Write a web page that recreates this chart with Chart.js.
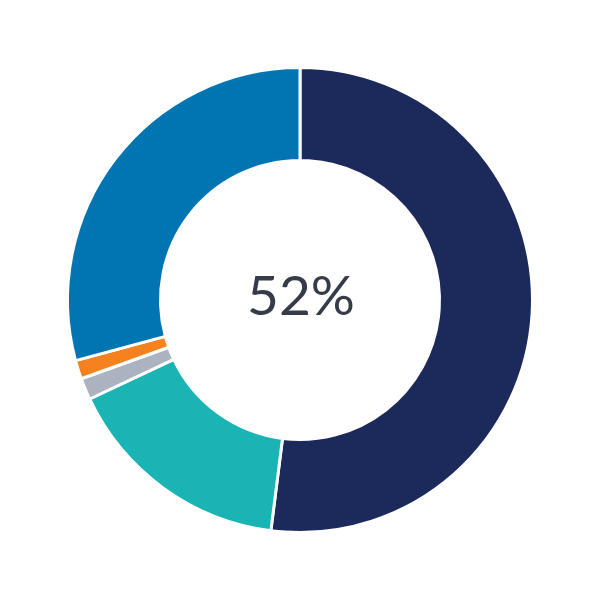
<!DOCTYPE html>
<html>
<head>
<meta charset="utf-8">
<script src="https://cdn.jsdelivr.net/npm/chart.js@4"></script>
<style>
  html, body { margin: 0; padding: 0; background: #ffffff; }
  #wrap { width: 600px; height: 600px; }
</style>
</head>
<body>
<div id="wrap"><canvas id="chart" width="600" height="600"></canvas></div>
<script>
const categories = ["Navy", "Teal", "Gray", "Orange", "Blue"];
const shares = [52, 16, 1.5, 1.3, 29.2];
const sliceColors = ["#1b2a5a", "#1ab4b5", "#aab3bf", "#f5821f", "#0075b2"];
const centerLabel = "52%";

const centerTextPlugin = {
  id: "centerText",
  afterDraw(chart, _args, options) {
    const { ctx, chartArea } = chart;
    const x = (chartArea.left + chartArea.right) / 2;
    const y = (chartArea.top + chartArea.bottom) / 2;
    ctx.save();
    ctx.fillStyle = options.color || "#353b48";
    ctx.font = options.font || "400 55px Lato";
    ctx.textAlign = "center";
    ctx.textBaseline = "middle";
    ctx.fillText(options.text || "", x + 1, y - 3);
    ctx.restore();
  },
};

new Chart(document.getElementById("chart"), {
  type: "doughnut",
  data: {
    labels: categories,
    datasets: [{
      data: shares,
      backgroundColor: sliceColors,
      borderColor: "#ffffff",
      borderWidth: 3,
    }],
  },
  options: {
    responsive: false,
    animation: false,
    cutout: "60%",
    layout: { padding: 66 },
    plugins: {
      legend: { display: false },
      tooltip: { enabled: false },
      centerText: { text: centerLabel, color: "#353b48", font: "400 55px Lato" },
    },
  },
  plugins: [centerTextPlugin],
});
</script>
</body>
</html>
